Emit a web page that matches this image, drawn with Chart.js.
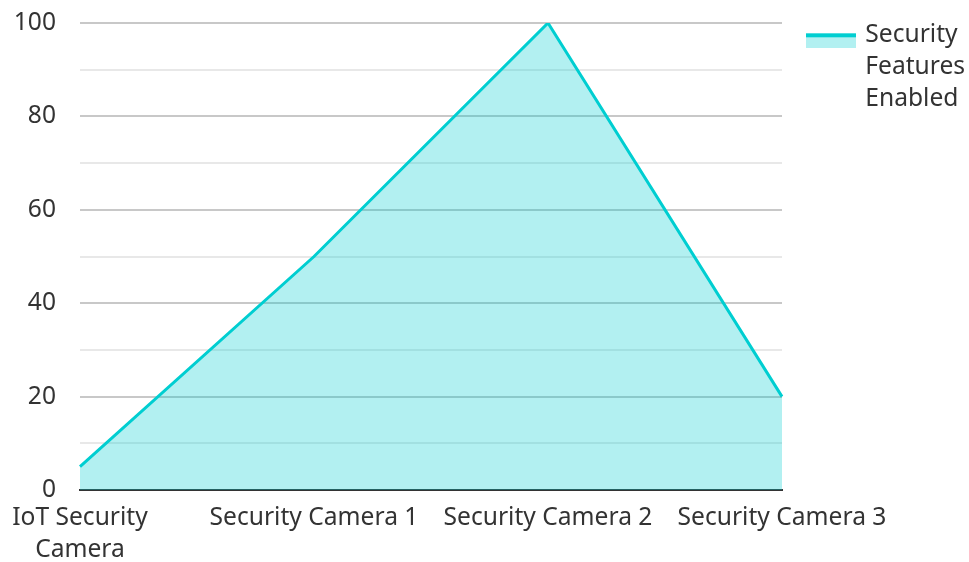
<!DOCTYPE html>
<html>
<head>
<meta charset="utf-8">
<script src="https://cdn.jsdelivr.net/npm/chart.js@4/dist/chart.umd.min.js"></script>
<style>
  html, body { margin: 0; padding: 0; background: #fff; }
  #wrap { width: 969px; height: 562px; position: relative; }
</style>
</head>
<body>
<div id="wrap"><canvas id="c"></canvas></div>
<script>
const categories = [['IoT Security', 'Camera'], 'Security Camera 1', 'Security Camera 2', 'Security Camera 3'];
const seriesName = 'Security Features Enabled';
const legendLines = ['Security', 'Features', 'Enabled'];
const seriesValues = [5, 50, 100, 20];
const yTicks = [0, 20, 40, 60, 80, 100];

const lineColor = '#00CED1';
const fillColor = 'rgba(0, 206, 209, 0.3)';

// legend swatch: light fill with a teal line on top
const SW_BOX = 71;
const SW_W = SW_BOX + 6, SW_H = 26;
const sw = document.createElement('canvas');
sw.width = SW_W; sw.height = SW_H;
const sctx = sw.getContext('2d');
sctx.fillStyle = fillColor;
sctx.fillRect(SW_W - 50, 11, 50, 15);
sctx.fillStyle = lineColor;
sctx.fillRect(SW_W - 50, 11, 50, 4);

const font = { family: '"Noto Sans", sans-serif', size: 24.6, lineHeight: 1.3 };

new Chart(document.getElementById('c'), {
  type: 'line',
  data: {
    labels: categories,
    datasets: [{
      label: seriesName,
      data: seriesValues,
      borderColor: lineColor,
      backgroundColor: fillColor,
      borderWidth: 3,
      fill: 'origin',
      pointRadius: 0,
      tension: 0
    }]
  },
  options: {
    responsive: true,
    maintainAspectRatio: false,
    animation: false,
    layout: { padding: { top: 23, right: 0, bottom: 0, left: 0 } },
    plugins: {
      tooltip: { enabled: false },
      legend: {
        position: 'right',
        align: 'start',
        maxWidth: 187,
        labels: {
          usePointStyle: true,
          pointStyle: sw,
          pointStyleWidth: SW_BOX,
          color: '#333',
          font: font,
          padding: 0,
          generateLabels(chart) {
            const items = Chart.defaults.plugins.legend.labels.generateLabels(chart);
            items.forEach(it => { it.text = legendLines; });
            return items;
          }
        }
      }
    },
    scales: {
      x: {
        offset: false,
        grid: { display: false, drawTicks: false },
        border: { display: true, color: '#333', width: 2 },
        ticks: { color: '#333', font: font, padding: 12, maxRotation: 0, autoSkip: false },
        afterFit: s => { s.height = 72; }
      },
      y: {
        min: 0,
        max: 100,
        border: { display: false },
        grid: {
          drawTicks: false,
          color: ctx => (ctx.tick && ctx.tick.value % 20 === 0) ? '#c8c8c8' : '#e8e8e8',
          lineWidth: 2
        },
        ticks: {
          stepSize: 10,
          color: '#333',
          font: font,
          padding: 24,
          callback: v => yTicks.includes(v) ? String(v) : ''
        },
        afterFit: s => { s.width = 80; s.paddingTop = 23; }
      }
    }
  }
});
</script>
</body>
</html>
